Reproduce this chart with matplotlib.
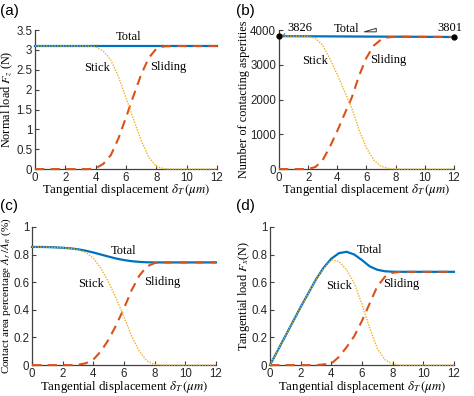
import matplotlib
matplotlib.use('Agg')
import matplotlib.pyplot as plt
import matplotlib.transforms as mtrans
from matplotlib.patches import Polygon
from matplotlib.ticker import FormatStrFormatter

plt.rcParams['font.family'] = ['Liberation Serif', 'DejaVu Serif']
plt.rcParams['mathtext.fontset'] = 'stix'

## DATA
##---------------------------
disp = [0, 0.5, 1, 1.5, 2, 2.5, 3, 3.5, 4, 4.5, 5, 5.5, 6,
        6.5, 7, 7.5, 8, 8.5, 9, 9.5, 10, 10.5, 11, 11.5, 12]

# (a) normal load, N
total_a = [3.1] * 25
stick_a = [3.1, 3.1, 3.1, 3.1, 3.1, 3.1, 3.1, 3.1, 3.08, 2.97, 2.75, 2.33, 1.8,
           1.25, 0.72, 0.3, 0.07, 0.01, 0, 0, 0, 0, 0, 0, 0]
slide_a = [0, 0, 0, 0, 0, 0, 0, 0, 0.02, 0.13, 0.35, 0.77, 1.3,
           1.85, 2.38, 2.8, 3.03, 3.09, 3.1, 3.1, 3.1, 3.1, 3.1, 3.1, 3.1]

# (b) number of contacting asperities
total_b = [3826, 3825, 3824, 3823, 3822, 3821, 3820, 3819, 3818, 3817, 3816, 3815, 3814,
           3813, 3812, 3811, 3810, 3809, 3808, 3807, 3806, 3805, 3804, 3802, 3801]
stick_b = [3826, 3825, 3824, 3823, 3820, 3760, 3560, 3170, 2720, 2230, 1750, 1120, 610,
           260, 85, 18, 3, 0, 0, 0, 0, 0, 0, 0, 0]
slide_b = [0, 0, 0, 0, 2, 61, 260, 649, 1098, 1587, 2066, 2695, 3204,
           3553, 3727, 3793, 3807, 3809, 3808, 3807, 3806, 3805, 3804, 3802, 3801]
end_pts_x = [0, 12]
end_pts_y = [3826, 3801]

# (c) contact area percentage
total_c = [0.855, 0.855, 0.854, 0.852, 0.849, 0.845, 0.838, 0.828, 0.815, 0.8, 0.785, 0.771, 0.76,
           0.752, 0.747, 0.744, 0.743, 0.743, 0.743, 0.743, 0.743, 0.743, 0.743, 0.743, 0.743]
stick_c = [0.855, 0.855, 0.854, 0.852, 0.849, 0.845, 0.835, 0.815, 0.775, 0.7, 0.6, 0.48, 0.35,
           0.21, 0.1, 0.03, 0.005, 0, 0, 0, 0, 0, 0, 0, 0]
slide_c = [0, 0, 0, 0, 0, 0, 0.003, 0.013, 0.04, 0.1, 0.185, 0.291, 0.41,
           0.542, 0.647, 0.714, 0.738, 0.743, 0.743, 0.743, 0.743, 0.743, 0.743, 0.743, 0.743]

# (d) tangential load, N
total_d = [0, 0.105, 0.21, 0.315, 0.42, 0.52, 0.62, 0.705, 0.77, 0.81, 0.82, 0.80, 0.76,
           0.715, 0.69, 0.679, 0.676, 0.675, 0.675, 0.675, 0.675, 0.675, 0.675, 0.675, 0.675]
stick_d = [0, 0.105, 0.21, 0.315, 0.42, 0.52, 0.62, 0.70, 0.76, 0.75, 0.69, 0.59, 0.44,
           0.27, 0.12, 0.04, 0.008, 0, 0, 0, 0, 0, 0, 0, 0]
slide_d = [0, 0, 0, 0, 0, 0, 0, 0.005, 0.01, 0.06, 0.13, 0.21, 0.32,
           0.445, 0.57, 0.639, 0.668, 0.675, 0.675, 0.675, 0.675, 0.675, 0.675, 0.675, 0.675]

xticks = [0, 2, 4, 6, 8, 10, 12]

blue = '#0072BD'
orange = '#D95319'
yellow = '#EDB120'
axcol = '#404040'

xlab = r'Tangential displacement $\delta_T\,(\mu m)$'

fig = plt.figure(figsize=(4.74, 3.96), dpi=100)

panels = [
    dict(pos=[0.0738, 0.573, 0.384, 0.351], tot=total_a, sti=stick_a, sli=slide_a,
         ylim=(0, 3.5), yticks=[0, 0.5, 1, 1.5, 2, 2.5, 3, 3.5],
         ylabel=r'Normal load $F_z$ (N)', ylx=-0.152, yfs=8.8,
         tag='(a)', tagxy=(0.0, 0.99),
         lab_total=(6.15, 3.33), lab_stick=(4.07, 2.54), lab_slide=(8.8, 2.58)),
    dict(pos=[0.5886, 0.573, 0.369, 0.351], tot=total_b, sti=stick_b, sli=slide_b,
         ylim=(0, 4000), yticks=[0, 1000, 2000, 3000, 4000],
         ylabel='Number of contacting asperities', ylx=-0.2, yfs=8.8,
         tag='(b)', tagxy=(0.497, 0.99),
         lab_total=(4.66, 4020), lab_stick=(2.49, 3110), lab_slide=(7.5, 3140)),
    dict(pos=[0.0675, 0.078, 0.388, 0.349], tot=total_c, sti=stick_c, sli=slide_c,
         ylim=(0, 1), yticks=[0, 0.2, 0.4, 0.6, 0.8, 1],
         ylabel=r'Contact area percentage $A_r\,/A_n$ (%)', ylx=-0.138, yfs=8.0,
         tag='(c)', tagxy=(0.0, 0.497),
         lab_total=(6.0, 0.827), lab_stick=(3.83, 0.59), lab_slide=(8.52, 0.6)),
    dict(pos=[0.5696, 0.078, 0.388, 0.349], tot=total_d, sti=stick_d, sli=slide_d,
         ylim=(0, 1), yticks=[0, 0.2, 0.4, 0.6, 0.8, 1],
         ylabel=r'Tangential load $F_x$(N)', ylx=-0.143, yfs=8.8,
         tag='(d)', tagxy=(0.497, 0.497),
         lab_total=(6.48, 0.832), lab_stick=(4.48, 0.575), lab_slide=(8.57, 0.585)),
]

axes = []
for p in panels:
    ax = fig.add_axes(p['pos'])
    axes.append(ax)

    ax.plot(disp, p['tot'], color=blue, lw=1.6, clip_on=False, zorder=3)
    ax.plot(disp, p['sli'], color=orange, lw=1.5, ls=(0, (4.5, 3)), clip_on=False, zorder=4)
    ax.plot(disp, p['sti'], color=yellow, lw=1.0, ls=(0, (1, 1)), clip_on=False, zorder=5)

    ax.set_xlim(0, 12)
    ax.set_ylim(*p['ylim'])
    ax.set_xticks(xticks)
    ax.set_yticks(p['yticks'])
    ax.yaxis.set_major_formatter(FormatStrFormatter('%g'))

    for s in ['top', 'right']:
        ax.spines[s].set_visible(False)
    for s in ['left', 'bottom']:
        ax.spines[s].set_color(axcol)
        ax.spines[s].set_linewidth(0.9)
    ax.tick_params(direction='in', length=3, width=0.8, color=axcol,
                   labelsize=8.3, labelcolor='#262626', pad=2)
    for lab in ax.get_xticklabels() + ax.get_yticklabels():
        lab.set_fontfamily('Liberation Sans')

    ax.set_xlabel(xlab, fontsize=9.3, labelpad=-1)
    ax.set_ylabel(p['ylabel'], fontsize=p['yfs'], va='center')
    ax.yaxis.set_label_coords(p['ylx'], 0.5)

    ax.text(*p['lab_total'], 'Total', fontsize=9, ha='center', va='center')
    ax.text(*p['lab_stick'], 'Stick', fontsize=9, ha='center', va='center')
    ax.text(*p['lab_slide'], 'Sliding', fontsize=9, ha='center', va='center')

    fig.text(*p['tagxy'], p['tag'], fontsize=11, family='Liberation Sans',
             ha='left', va='top')

# extra markup on panel (b)
ax = axes[1]
ax.plot(end_pts_x, end_pts_y, 'o', color='k', ms=3.5, clip_on=False, zorder=6)
ax.annotate(str(end_pts_y[0]), xy=(end_pts_x[0], end_pts_y[0]), xytext=(0.6, 4060),
            fontsize=9, ha='left', va='center', annotation_clip=False,
            arrowprops=dict(arrowstyle='-', ls=':', color='#555555', lw=0.8,
                            shrinkA=0, shrinkB=1))
ax.text(11.7, 4060, str(end_pts_y[1]), fontsize=9, ha='center', va='center')

# slope wedge next to "Total"
wedge_tr = fig.dpi_scale_trans + mtrans.ScaledTranslation(5.85, 3950, ax.transData)
ax.add_patch(Polygon([(0, 0), (0.12, 0), (0.12, 0.035)], closed=True, fill=False,
                     ec='#333333', lw=0.7, transform=wedge_tr, clip_on=False))

fig.savefig('out.png', dpi=100)
